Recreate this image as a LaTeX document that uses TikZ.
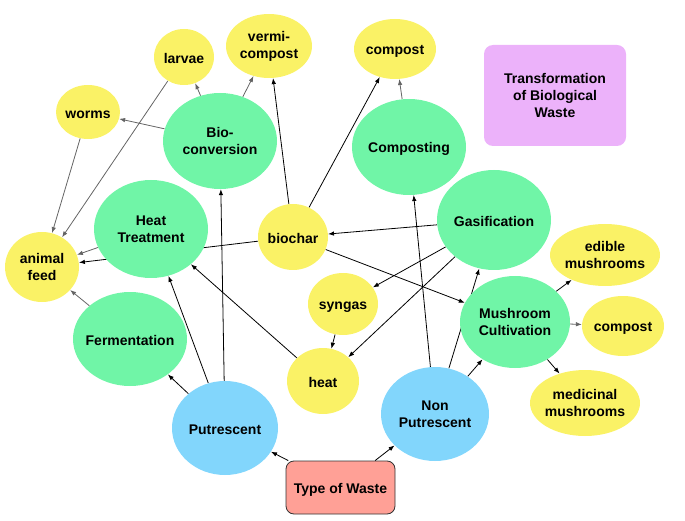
\documentclass[tikz,border=0pt]{standalone}
\usepackage{fontspec}
\setmainfont{Liberation Sans}
\usetikzlibrary{shapes.geometric,arrows.meta,backgrounds}
\definecolor{yel}{RGB}{250,242,102}
\definecolor{grn}{RGB}{112,245,167}
\definecolor{blu}{RGB}{130,214,252}
\definecolor{pnk}{RGB}{236,178,250}
\definecolor{sal}{RGB}{255,160,150}
\definecolor{edgegray}{RGB}{100,100,100}
\begin{document}
\begin{tikzpicture}[x=1pt,y=-1pt,
  every node/.style={font=\fontsize{14}{17}\selectfont\bfseries, align=center,
    inner xsep=-10pt, inner ysep=0pt, execute at begin node={\rule{0pt}{14pt}}},
  yn/.style={ellipse, fill=yel},
  gn/.style={ellipse, fill=grn},
  bn/.style={ellipse, fill=blu},
  blk/.style={draw=black, line width=0.8pt, -{Latex[length=6pt,width=4.5pt]}},
  gry/.style={draw=edgegray, line width=0.8pt, -{Latex[length=6pt,width=4.5pt]}}
]
\useasboundingbox (0,0) rectangle (685,521);
% nodes
\node[yn, minimum width=60pt, minimum height=56pt] (larvae) at (184,57) {larvae};
\node[yn, minimum width=86pt, minimum height=64pt] (vermi) at (269,46) {vermi-\\compost};
\node[yn, minimum width=64pt, minimum height=54pt] (worms) at (88,112) {worms};
\node[gn, minimum width=114pt, minimum height=96pt] (bio) at (220,141) {Bio-\\conversion};
\node[gn, minimum width=114pt, minimum height=98pt] (ht) at (151,229) {Heat\\Treatment};
\node[yn, minimum width=70pt, minimum height=66pt] (biochar) at (293,237) {biochar};
\node[yn, minimum width=74pt, minimum height=70pt] (af) at (42,267) {animal\\feed};
\node[yn, minimum width=82pt, minimum height=60pt] (compT) at (395,49) {compost};
\node[rectangle, rounded corners=9pt, fill=pnk, minimum width=142pt, minimum height=101pt] (title) at (555,95.5) {Transformation\\of Biological\\Waste};
\node[gn, minimum width=114pt, minimum height=96pt] (comp) at (409,147) {Composting};
\node[gn, minimum width=114pt, minimum height=100pt] (gas) at (494,220) {Gasification};
\node[yn, minimum width=110pt, minimum height=62pt] (edible) at (605,255) {edible\\mushrooms};
\node[gn, minimum width=114pt, minimum height=94pt] (ferm) at (130,339) {Fermentation};
\node[yn, minimum width=70pt, minimum height=62pt] (syngas) at (343,304) {syngas};
\node[yn, minimum width=72pt, minimum height=66pt] (heat) at (323,381) {heat};
\node[bn, minimum width=106pt, minimum height=94pt] (put) at (225,428) {Putrescent};
\node[rectangle, rounded corners=8pt, fill=sal, draw=black!80, line width=0.8pt, minimum width=109pt, minimum height=53pt] (tow) at (340.5,487.5) {Type of Waste};
\node[bn, minimum width=108pt, minimum height=94pt] (np) at (435,414) {Non\\Putrescent};
\node[gn, minimum width=110pt, minimum height=92pt] (mush) at (515,322) {Mushroom\\Cultivation};
\node[yn, minimum width=82pt, minimum height=60pt] (compR) at (623,326) {compost};
\node[yn, minimum width=110pt, minimum height=66pt] (med) at (585,403) {medicinal\\mushrooms};
% edges
\begin{scope}[on background layer]
\draw[gry] (bio) -- (larvae);
\draw[gry] (bio) -- (vermi);
\draw[gry] (bio) -- (worms);
\draw[gry] (worms) -- (af);
\draw[gry] (larvae) -- (af);
\draw[gry] (comp) -- (compT);
\draw[gry] (ferm) -- (af);
\draw[gry] (ht) -- (af);
\draw[gry] (mush) -- (compR);
\draw[blk] (biochar) -- (vermi);
\draw[blk] (biochar) -- (compT);
\draw[blk] (gas) -- (biochar);
\draw[blk] (biochar) -- (mush);
\draw[blk] (biochar) -- (af);
\draw[blk] (gas) -- (syngas);
\draw[blk] (gas) -- (heat);
\draw[blk] (syngas) -- (heat);
\draw[blk] (heat) -- (ht);
\draw[blk] (put) -- (ferm);
\draw[blk] (put) -- (ht);
\draw[blk] (put) -- (bio);
\draw[blk] (np) -- (comp);
\draw[blk] (np) -- (gas);
\draw[blk] (np) -- (mush);
\draw[blk] (mush) -- (edible);
\draw[blk] (mush) -- (med);
\draw[blk] (tow) -- (put);
\draw[blk] (tow) -- (np);
\end{scope}
\end{tikzpicture}
\end{document}
